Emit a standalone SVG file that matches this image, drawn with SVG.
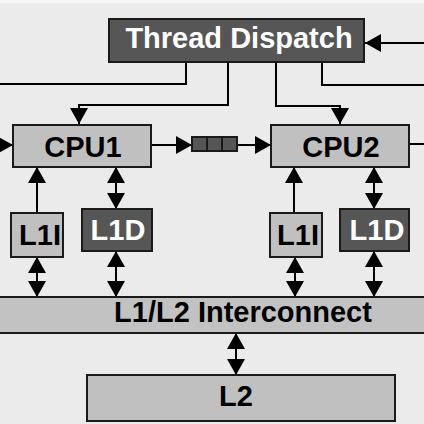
<svg xmlns="http://www.w3.org/2000/svg" width="424" height="424" viewBox="0 0 424 424">
<defs>
<style>
.box{stroke:#1a1a1a;stroke-width:2}
.dark{fill:#565656}
.light{fill:#c0c0c0}
.lbl{font-family:"Liberation Sans",Arial,sans-serif;font-weight:bold;font-size:29px;text-anchor:middle}
.w{fill:#ffffff}
.k{fill:#000000}
.ln{fill:none;stroke:#000;stroke-width:2}
</style>
<marker id="ah" viewBox="0 0 16 18" refX="16" refY="9" markerWidth="16" markerHeight="18" markerUnits="userSpaceOnUse" orient="auto-start-reverse">
<path d="M0,0 L16,9 L0,18 Z" fill="#000"/>
</marker>
</defs>
<rect x="0" y="0" width="424" height="424" fill="#ebebeb"/>
<rect x="0" y="0" width="424" height="3" fill="#f5f5f5"/>

<g id="connectors">
<polyline class="ln" points="186,62 186,84 0,84"/>
<polyline class="ln" points="322,62 322,85 424,85"/>
<line class="ln" x1="424" y1="43" x2="365" y2="43" marker-end="url(#ah)"/>
<polyline class="ln" points="228,62 228,105 79,105 79,124" marker-end="url(#ah)"/>
<polyline class="ln" points="276,62 276,106 340,106 340,124" marker-end="url(#ah)"/>
<line class="ln" x1="0" y1="145" x2="13" y2="145" marker-end="url(#ah)"/>
<line class="ln" x1="151" y1="145" x2="192" y2="145" marker-end="url(#ah)"/>
<line class="ln" x1="237" y1="145" x2="271" y2="145" marker-end="url(#ah)"/>
<line class="ln" x1="409" y1="144" x2="424" y2="144"/>
<line class="ln" x1="37" y1="213" x2="37" y2="167" marker-end="url(#ah)"/>
<line class="ln" x1="116" y1="167" x2="116" y2="209" marker-start="url(#ah)" marker-end="url(#ah)"/>
<line class="ln" x1="294" y1="213" x2="294" y2="167" marker-end="url(#ah)"/>
<line class="ln" x1="374" y1="167" x2="374" y2="209" marker-start="url(#ah)" marker-end="url(#ah)"/>
<line class="ln" x1="37" y1="257" x2="37" y2="297" marker-start="url(#ah)" marker-end="url(#ah)"/>
<line class="ln" x1="116" y1="251" x2="116" y2="297" marker-start="url(#ah)" marker-end="url(#ah)"/>
<line class="ln" x1="295" y1="257" x2="295" y2="297" marker-start="url(#ah)" marker-end="url(#ah)"/>
<line class="ln" x1="374" y1="251" x2="374" y2="297" marker-start="url(#ah)" marker-end="url(#ah)"/>
<line class="ln" x1="236" y1="333" x2="236" y2="375" marker-start="url(#ah)" marker-end="url(#ah)"/>
</g>

<g id="thread-dispatch">
<rect class="box dark" x="109" y="19" width="255" height="43"/>
<text class="lbl w" x="239" y="48">Thread Dispatch</text>
</g>

<g id="cpu1">
<rect class="box light" x="13" y="125" width="138" height="42"/>
<text class="lbl k" x="83" y="157">CPU1</text>
</g>

<g id="buffer">
<rect class="box dark" x="192" y="137" width="15" height="14" stroke-width="1.5"/>
<rect class="box dark" x="207" y="137" width="15" height="14" stroke-width="1.5"/>
<rect class="box dark" x="222" y="137" width="15" height="14" stroke-width="1.5"/>
</g>

<g id="cpu2">
<rect class="box light" x="271" y="125" width="138" height="42"/>
<text class="lbl k" x="341" y="157">CPU2</text>
</g>

<g id="l1i-1">
<rect class="box light" x="11" y="213" width="52" height="44"/>
<text class="lbl k" x="40" y="245">L1I</text>
</g>

<g id="l1d-1">
<rect class="box dark" x="82" y="209" width="70" height="42"/>
<text class="lbl w" x="118" y="240">L1D</text>
</g>

<g id="l1i-2">
<rect class="box light" x="270" y="213" width="52" height="44"/>
<text class="lbl k" x="298" y="245">L1I</text>
</g>

<g id="l1d-2">
<rect class="box dark" x="340" y="209" width="69" height="42"/>
<text class="lbl w" x="377" y="240">L1D</text>
</g>

<g id="interconnect">
<rect class="box" fill="#c2c2c2" x="-2" y="297" width="428" height="36"/>
<text class="lbl k" x="243" y="322">L1/L2 Interconnect</text>
</g>

<g id="l2">
<rect class="box light" x="87" y="375" width="308" height="46"/>
<text class="lbl k" x="236" y="406">L2</text>
</g>
</svg>
